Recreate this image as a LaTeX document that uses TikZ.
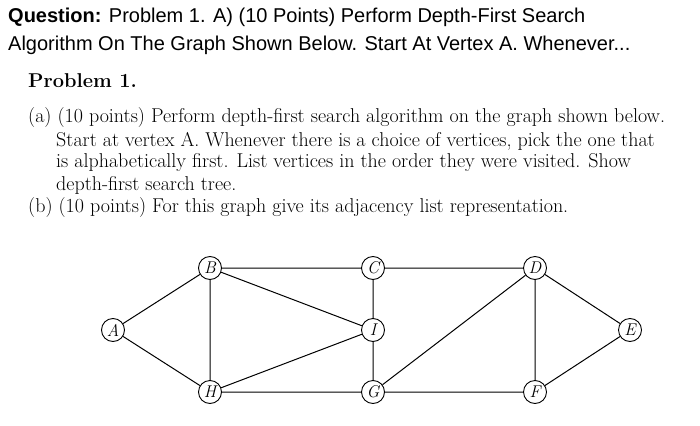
\documentclass[tikz,border=0pt]{standalone}
\usepackage{fontspec}
\newfontfamily\hdr{Liberation Sans}
\begin{document}
\begin{tikzpicture}[x=1pt,y=-1pt,
  v/.style={circle,draw,line width=0.9pt,minimum size=23pt,inner sep=0pt,font=\fontsize{17}{17}\selectfont\itshape},
  e/.style={line width=1pt},
  hl/.style={anchor=west,inner sep=0pt,font=\hdr\fontsize{20}{20}\selectfont},
  bl/.style={anchor=west,inner sep=0pt,font=\fontsize{20}{20}\selectfont}]
\useasboundingbox (0,0) rectangle (700,425);
\node[hl] (h1) at (8,17) {\textbf{Question:} Problem 1. A) (10 Points) Perform Depth-First Search};
\node[hl] (h2) at (8,45) {Algorithm On The Graph Shown Below. Start At Vertex A. Whenever...};
\node[bl] (p) at (28,81) {\textbf{Problem 1.}};
\node[bl] (a1) at (28,118) {(a) (10 points) Perform depth-first search algorithm on the graph shown below.};
\node[bl] (a2) at (56,141) {Start at vertex A. Whenever there is a choice of vertices, pick the one that};
\node[bl] (a3) at (56,163) {is alphabetically first. List vertices in the order they were visited. Show};
\node[bl] (a4) at (56,185) {depth-first search tree.};
\node[bl] (b1) at (28,208) {(b) (10 points) For this graph give its adjacency list representation.};
\node[v] (A) at (113,330) {A};
\node[v] (B) at (210,268) {B};
\node[v] (C) at (373,268) {C};
\node[v] (D) at (535,268) {D};
\node[v] (E) at (630,330) {E};
\node[v] (I) at (373,330) {I};
\node[v] (H) at (210,392) {H};
\node[v] (G) at (373,392) {G};
\node[v] (F) at (535,392) {F};
\draw[e] (A)--(B) (A)--(H) (B)--(C) (C)--(D) (B)--(H) (B)--(I) (C)--(I) (I)--(G) (I)--(H)
  (H)--(G) (G)--(F) (G)--(D) (D)--(F) (D)--(E) (F)--(E);
\end{tikzpicture}
\end{document}
